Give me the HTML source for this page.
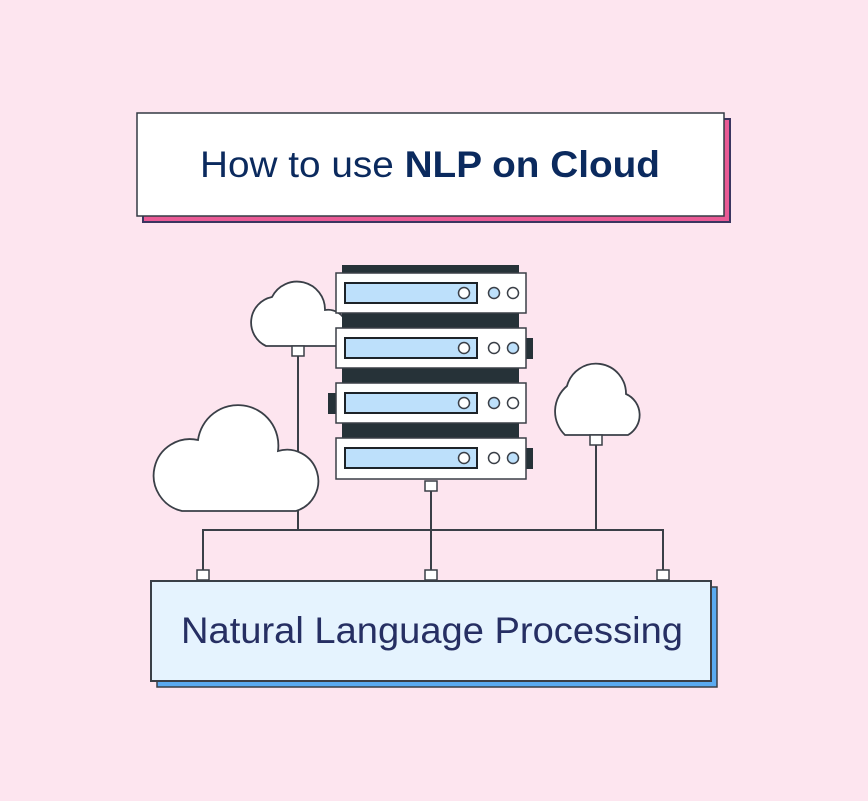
<!DOCTYPE html>
<html><head><meta charset="utf-8"><style>
html,body{margin:0;padding:0;background:#fde5ef;}
svg{display:block}
</style></head><body>
<svg width="868" height="801" viewBox="0 0 868 801" xmlns="http://www.w3.org/2000/svg">
<rect width="868" height="801" fill="#fde5ef"/>
<rect x="143" y="119" width="587" height="103" fill="#e95a95" stroke="#3b3560" stroke-width="2"/>
<rect x="137" y="113" width="587" height="103" fill="#fff" stroke="#333a44" stroke-width="1.5"/>
<text x="430" y="177" text-anchor="middle" font-family="Liberation Sans, sans-serif" font-size="37" textLength="460" lengthAdjust="spacingAndGlyphs" fill="#0b2a5e">How to use <tspan font-weight="bold">NLP on Cloud</tspan></text>
<g stroke="#3a3f47" stroke-width="2" fill="none">
<line x1="298" y1="356" x2="298" y2="530"/>
<line x1="596" y1="444" x2="596" y2="530"/>
<line x1="431" y1="491" x2="431" y2="571"/>
<polyline points="203,571 203,530 663,530 663,571"/>
</g>
<g fill="#fff" stroke="#3a3f47" stroke-width="1.8">
<path d="M266 346 A26 26 0 0 1 272 297 A28 28 0 0 1 325 310 A19 19 0 0 1 336 346 Z"/>
<path d="M182 511 A36 36 0 0 1 198 440 A40 40 0 0 1 278 451 A31 31 0 0 1 296 511 Z"/>
<path d="M565 435 A33 33 0 0 1 567 386 A30 30 0 0 1 626 394 A23 23 0 0 1 628 435 Z"/>
</g>
<g fill="#fff" stroke="#3a3f47" stroke-width="1.5">
<rect x="292" y="346" width="12" height="10"/>
<rect x="590" y="435" width="12" height="10"/>
<rect x="425" y="481" width="12" height="10"/>
<rect x="197" y="570" width="12" height="10"/>
<rect x="425" y="570" width="12" height="10"/>
<rect x="657" y="570" width="12" height="10"/>
</g>
<rect x="342" y="265" width="177" height="213" fill="#263238"/>
<rect x="526" y="338" width="7" height="21" fill="#263238"/>
<rect x="328" y="393" width="8" height="21" fill="#263238"/>
<rect x="526" y="448" width="7" height="21" fill="#263238"/>
<g stroke="#3a3f47" stroke-width="1.5">
<g>
<rect x="336" y="273" width="190" height="40" fill="#fff"/>
<rect x="345" y="283" width="132" height="20" fill="#bde0fb" stroke="#1d2328" stroke-width="2"/>
<circle cx="464" cy="293" r="5.5" fill="#fff"/><circle cx="494" cy="293" r="5.5" fill="#bde0fb"/><circle cx="513" cy="293" r="5.5" fill="#fff"/>
</g>
<g transform="translate(0,55)">
<rect x="336" y="273" width="190" height="40" fill="#fff"/>
<rect x="345" y="283" width="132" height="20" fill="#bde0fb" stroke="#1d2328" stroke-width="2"/>
<circle cx="464" cy="293" r="5.5" fill="#fff"/><circle cx="494" cy="293" r="5.5" fill="#fff"/><circle cx="513" cy="293" r="5.5" fill="#bde0fb"/>
</g>
<g transform="translate(0,110)">
<rect x="336" y="273" width="190" height="40" fill="#fff"/>
<rect x="345" y="283" width="132" height="20" fill="#bde0fb" stroke="#1d2328" stroke-width="2"/>
<circle cx="464" cy="293" r="5.5" fill="#fff"/><circle cx="494" cy="293" r="5.5" fill="#bde0fb"/><circle cx="513" cy="293" r="5.5" fill="#fff"/>
</g>
<g transform="translate(0,165)">
<rect x="336" y="273" width="190" height="41" fill="#fff"/>
<rect x="345" y="283" width="132" height="20" fill="#bde0fb" stroke="#1d2328" stroke-width="2"/>
<circle cx="464" cy="293" r="5.5" fill="#fff"/><circle cx="494" cy="293" r="5.5" fill="#fff"/><circle cx="513" cy="293" r="5.5" fill="#bde0fb"/>
</g>
</g>
<rect x="157" y="587" width="560" height="100" fill="#5aaaf0" stroke="#3a3f47" stroke-width="1.5"/>
<rect x="151" y="581" width="560" height="100" fill="#e5f3fe" stroke="#3a3f47" stroke-width="2"/>
<text x="432" y="643" text-anchor="middle" font-family="Liberation Sans, sans-serif" font-size="37" textLength="502" lengthAdjust="spacingAndGlyphs" fill="#262f63">Natural Language Processing</text>
</svg>
</body></html>
